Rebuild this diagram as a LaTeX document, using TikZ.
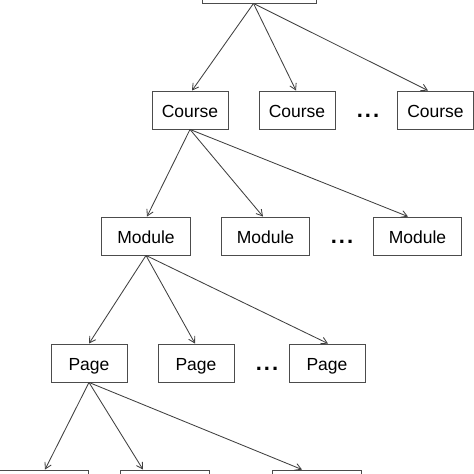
\documentclass[tikz,border=0pt]{standalone}
\usepackage{fontspec}
\setmainfont{Liberation Sans}
\usetikzlibrary{arrows.meta}

\newcommand{\moredots}{{\fontsize{22}{24}\selectfont\bfseries .\hspace{2pt}.\hspace{2pt}.}}

\begin{document}
\begin{tikzpicture}[x=1pt,y=-1pt]
\tikzstyle{every node}=[font=\fontsize{17.5}{21}\selectfont,text height=14.3pt,text depth=0pt,inner sep=0pt];
\tikzstyle{box}=[draw=black!70,line width=0.9pt,minimum height=38pt];
\tikzstyle{link}=[draw=black!75,line width=0.85pt,-{Straight Barb[length=6pt,width=7pt]}];
\useasboundingbox (0,0) rectangle (474,474);

% top
\node[box,minimum width=114pt] (root) at (259.5,-16) {};

% courses
\node[box,minimum width=76pt] (course1) at (190,110) {Course};
\node[box,minimum width=76pt] (course2) at (297,110) {Course};
\node (coursedots) at (368,110) {\moredots};
\node[box,minimum width=76pt] (course3) at (435.5,110) {Course};

% modules
\node[box,minimum width=88.5pt] (module1) at (146,236) {Module};
\node[box,minimum width=88.5pt] (module2) at (265.5,236) {Module};
\node (moduledots) at (342,236) {\moredots};
\node[box,minimum width=88.5pt] (module3) at (417.5,236) {Module};

% pages
\node[box,minimum width=76pt] (page1) at (89,363) {Page};
\node[box,minimum width=76pt] (page2) at (196,363) {Page};
\node (pagedots) at (267,363) {\moredots};
\node[box,minimum width=76pt] (page3) at (327,363) {Page};

% below pages
\node[box,minimum width=89pt] (item1) at (44,489) {};
\node[box,minimum width=89pt] (item2) at (164.5,489) {};
\node[box,minimum width=89pt] (item3) at (316.5,489) {};

\draw[link] ([xshift=-6pt]root.south) -- ([xshift=2pt]course1.north);
\draw[link] ([xshift=-6pt]root.south) -- ([xshift=-1pt]course2.north);
\draw[link] ([xshift=-6pt]root.south) -- ([xshift=-7.5pt]course3.north);

\draw[link] (course1.south) -- ([xshift=1pt]module1.north);
\draw[link] (course1.south) -- ([xshift=-2.5pt]module2.north);
\draw[link] (course1.south) -- ([xshift=-9.5pt]module3.north);

\draw[link] (module1.south) -- (page1.north);
\draw[link] (module1.south) -- ([xshift=-1pt]page2.north);
\draw[link] (module1.south) -- ([xshift=1pt]page3.north);

\draw[link] (page1.south) -- ([xshift=1pt]item1.north);
\draw[link] (page1.south) -- ([xshift=-21.5pt]item2.north);
\draw[link] (page1.south) -- ([xshift=-14.5pt]item3.north);
\end{tikzpicture}
\end{document}
